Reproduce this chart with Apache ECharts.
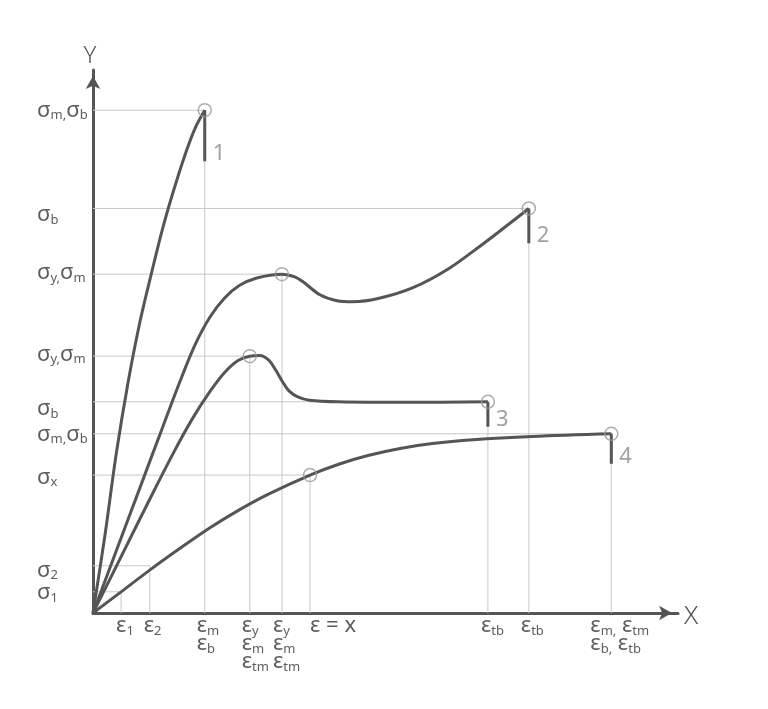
<!DOCTYPE html>
<html>
<head>
<meta charset="utf-8">
<script src="https://cdn.jsdelivr.net/npm/echarts@6/dist/echarts.min.js"></script>
<style>
  html, body { margin: 0; padding: 0; background: #fff; }
  #chart { width: 768px; height: 709px; }
</style>
</head>
<body>
<div id="chart"></div>
<script>
// stress-strain curves, x = strain, y = stress (arbitrary units 0..100)
const curve1 = [[0, 0], [2, 14], [4, 29.5], [6, 42.5], [8, 53.5], [10, 62.6], [12, 71.2], [14, 78.6], [16, 85.2], [17.5, 89.4], [19.1, 92.6]];
const curve2 = [[0, 0], [4, 11.5], [8, 23], [12, 34.5], [15, 43], [17.5, 49.5], [20, 54.5], [22.5, 58], [25, 60.3], [28, 61.7], [32.3, 62.4],
  [34.5, 61.9], [35.9, 61.0], [38.8, 58.6], [41.7, 57.5], [44.4, 57.3], [49.1, 58.0], [54.7, 59.9], [60.5, 63.2], [66.2, 67.6], [70.1, 70.8], [74.5, 74.5]];
const curve3 = [[0, 0], [5, 10.8], [10, 21.6], [14, 30], [17, 35.8], [20, 40.8], [22.5, 44.3], [24.8, 46.5], [26.8, 47.3], [28.5, 47.4], [30, 46.6],
  [31.2, 44.8], [32.4, 42.6], [33.5, 40.9], [35, 39.8], [37, 39.2], [42, 38.9], [54, 38.8], [67.5, 38.9]];
const curve4 = [[0, 0], [4.8, 3.9], [9.7, 7.9], [15, 12], [20, 15.7], [25, 19.0], [30, 21.9], [37.1, 25.4], [42, 27.4], [47, 29.0],
  [52.5, 30.3], [58, 31.2], [65, 31.9], [75, 32.5], [88.6, 33.0]];
const curves = [curve1, curve2, curve3, curve4];
const curveNames = ['1', '2', '3', '4'];
// length of the fracture drop at the end of each curve
const breakDrop = [9.4, 6.4, 4.6, 5.5];

// guide corners: strain tick + matching stress tick
const strainTicks = [4.8, 9.7, 19.1, 26.8, 32.3, 37.1, 67.5, 74.5, 88.6];
const stressTicks = [3.9, 8.7, 92.6, 47.3, 62.4, 25.4, 38.9, 74.5, 33.0];
const strainLabels = ['ε_1', 'ε_2', 'ε_m\nε_b', 'ε_y\nε_m\nε_tm', 'ε_y\nε_m\nε_tm', 'ε = x', 'ε_tb', 'ε_tb', 'ε_m, ε_tm\nε_b, ε_tb'];
const stressLabels = ['σ_1', 'σ_2', 'σ_m,σ_b', 'σ_y,σ_m', 'σ_y,σ_m', 'σ_x', 'σ_b', 'σ_b', 'σ_m,σ_b'];
// which corners get a circle
const markerIdx = [2, 3, 4, 5, 6, 7, 8];

const FONT = '"Noto Sans", "DejaVu Sans", sans-serif';
const DARK = '#555';
const TXT = '#333';

// 'σ_m,σ_b' -> rich text with subscripts
function toRich(str) {
  return str.split('\n').map(function (line) {
    return line.replace(/([σε])(?:_([a-z0-9]+,?))?|([^σε]+)/g, function (m, g, sub, other) {
      if (other) return '{g|' + other + '}';
      return '{g|' + g + '}' + (sub ? '{s|' + sub + '}' : '');
    });
  }).join('\n');
}
const rich = {
  g: { fontSize: 22, lineHeight: 18, color: TXT, fontFamily: FONT },
  s: { fontSize: 13, lineHeight: 18, padding: [10, 0, 0, 0], color: TXT, fontFamily: FONT }
};

// label placement tweaks (px)
const xLabelDx = [-5, -6, -8, -8, -9, 0, -7, -8, -21];
const yLabelDy = [4, 7.5, 3, 1, 1.5, 5, 10, 9, 3.5];

let series = [];

// thin guide lines
strainTicks.forEach(function (x, i) {
  const y = stressTicks[i];
  series.push({
    type: 'line', data: [[0, y], [x, y], [x, 0]], symbol: 'none', silent: true, z: 1,
    lineStyle: { color: '#c8c8c8', width: 1 }
  });
});

// curves + fracture marks + numbers
curves.forEach(function (c, i) {
  series.push({
    type: 'line', data: c, smooth: 0.35, symbol: 'none', z: 3,
    lineStyle: { color: DARK, width: 3 }
  });
  const end = c[c.length - 1];
  series.push({
    type: 'line', data: [end, [end[0], end[1] - breakDrop[i]]], symbol: 'none', z: 3,
    lineStyle: { color: DARK, width: 3 }
  });
  series.push({
    type: 'scatter', data: [[end[0], end[1] - breakDrop[i]]], symbolSize: 0, z: 5,
    label: {
      show: true, position: 'inside', align: 'left', verticalAlign: 'middle', offset: [8, -7],
      formatter: curveNames[i], fontSize: 22, color: '#8a8a8a', fontFamily: FONT
    }
  });
});

// circles
series.push({
  type: 'scatter', z: 4, symbol: 'circle', symbolSize: 13,
  data: markerIdx.map(function (i) { return [strainTicks[i], stressTicks[i]]; }),
  itemStyle: { color: 'rgba(255,255,255,0)', borderColor: '#999', borderWidth: 1.5 }
});

// strain labels under the x axis
strainTicks.forEach(function (x, i) {
  series.push({
    type: 'scatter', data: [[x, 0]], symbolSize: 0, z: 5,
    label: {
      show: true, position: 'inside', align: 'left', verticalAlign: 'top',
      offset: [xLabelDx[i], 4], formatter: toRich(strainLabels[i]), rich: rich
    }
  });
});
// stress labels left of the y axis
stressTicks.forEach(function (y, i) {
  series.push({
    type: 'scatter', data: [[0, y]], symbolSize: 0, z: 5,
    label: {
      show: true, position: 'inside', align: 'left', verticalAlign: 'middle',
      offset: [-56, yLabelDy[i] - 2.6], formatter: toRich(stressLabels[i]), rich: rich
    }
  });
});

const axisLine = {
  show: true, symbol: ['none', 'arrow'], symbolSize: [11, 13], symbolOffset: [0, -6],
  lineStyle: { color: DARK, width: 3 }
};

const chart = echarts.init(document.getElementById('chart'));
chart.setOption({
  animation: false,
  textStyle: { fontFamily: FONT },
  grid: { left: 93, right: 90, top: 70, bottom: 96 },
  xAxis: {
    type: 'value', min: 0, max: 100, name: 'X', nameLocation: 'end', nameGap: 6,
    nameTextStyle: { fontSize: 26, color: '#555', fontWeight: 300, verticalAlign: 'top', padding: [-9, 0, 0, 0] },
    axisLine: axisLine, axisTick: { show: false }, axisLabel: { show: false }, splitLine: { show: false }
  },
  yAxis: {
    type: 'value', min: 0, max: 100, name: 'Y', nameLocation: 'end', nameGap: 2,
    nameTextStyle: { fontSize: 24, color: '#555', fontWeight: 300, align: 'center', padding: [0, 6, 0, 0] },
    axisLine: axisLine, axisTick: { show: false }, axisLabel: { show: false }, splitLine: { show: false }
  },
  series: series
});
</script>
</body>
</html>
